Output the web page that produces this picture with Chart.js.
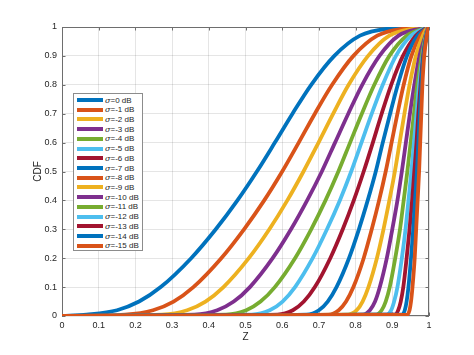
<!DOCTYPE html>
<html><head><meta charset="utf-8">
<script src="https://cdn.jsdelivr.net/npm/chart.js@4/dist/chart.umd.min.js"></script>
<style>
html,body{margin:0;padding:0;background:#fff;}
#wrap{position:relative;width:474px;height:355px;}
#legend{position:absolute;left:73px;top:93px;width:70px;height:158px;background:#fff;border:1px solid #8c8c8c;box-sizing:border-box;font-family:'Liberation Sans',Arial,sans-serif;font-size:8px;color:#262626;}
.row{position:absolute;left:0;height:10px;display:flex;align-items:center;white-space:nowrap;}
.swatch{width:26px;height:4px;margin-left:3px;margin-right:2px;}
.row i{font-family:'DejaVu Serif',serif;font-size:8px;}
</style></head>
<body><div id="wrap"><canvas id="c" width="474" height="355"></canvas><div id="legend"></div></div>
<script>
// CDF levels at which Z was read for each curve
const levels = [0, 0.005, 0.02, 0.05, 0.1, 0.2, 0.3, 0.4, 0.5, 0.6, 0.7, 0.8, 0.9, 0.97, 0.995, 1];
// Z values (x) read for each sigma curve, one per CDF level
const z_s0  = [0, .067, .150, .210, .269, .352, .419, .478, .531, .580, .628, .679, .742, .812, .895, 1];
const z_s1  = [0, .172, .248, .304, .358, .434, .496, .551, .600, .645, .689, .736, .794, .859, .935, 1];
const z_s2  = [0, .272, .341, .391, .440, .509, .565, .614, .658, .699, .739, .781, .834, .892, .961, 1];
const z_s3  = [0, .361, .423, .468, .512, .574, .624, .668, .708, .744, .780, .818, .865, .917, .979, 1];
const z_s4  = [0, .447, .502, .541, .580, .635, .679, .718, .753, .785, .817, .851, .892, .939, .985, 1];
const z_s5  = [0, .517, .566, .601, .635, .683, .722, .757, .788, .816, .844, .874, .910, .951, .988, 1];
const z_s6  = [0, .587, .629, .659, .689, .731, .765, .795, .822, .847, .871, .897, .929, .964, .990, 1];
const z_s7  = [0, .666, .700, .724, .748, .782, .809, .833, .855, .874, .894, .915, .940, .969, .992, 1];
const z_s8  = [0, .726, .754, .774, .794, .822, .844, .864, .882, .898, .914, .931, .952, .976, .993, 1];
const z_s9  = [0, .780, .803, .819, .835, .858, .876, .892, .907, .920, .933, .947, .964, .983, .994, 1];
const z_s10 = [0, .820, .839, .853, .866, .885, .900, .914, .926, .937, .948, .960, .974, .990, .996, 1];
const z_s11 = [0, .856, .871, .882, .893, .908, .921, .931, .941, .950, .959, .968, .980, .991, .997, 1];
const z_s12 = [0, .885, .897, .905, .914, .926, .936, .944, .952, .959, .966, .973, .983, .992, .997, 1];
const z_s13 = [0, .907, .916, .923, .930, .939, .947, .954, .960, .966, .971, .977, .984, .993, .998, 1];
const z_s14 = [0, .927, .934, .939, .944, .951, .957, .962, .967, .971, .975, .979, .985, .993, .998, 1];
const z_s15 = [0, .941, .947, .951, .955, .961, .965, .969, .973, .976, .979, .982, .987, .994, .998, 1];
const seriesLabels = ['σ=0 dB','σ=-1 dB','σ=-2 dB','σ=-3 dB','σ=-4 dB','σ=-5 dB','σ=-6 dB','σ=-7 dB',
  'σ=-8 dB','σ=-9 dB','σ=-10 dB','σ=-11 dB','σ=-12 dB','σ=-13 dB','σ=-14 dB','σ=-15 dB'];
const xTicks = [0,0.1,0.2,0.3,0.4,0.5,0.6,0.7,0.8,0.9,1];
const xTickLabels = ['0','0.1','0.2','0.3','0.4','0.5','0.6','0.7','0.8','0.9','1'];
const yTicks = [0,0.1,0.2,0.3,0.4,0.5,0.6,0.7,0.8,0.9,1];
const yTickLabels = ['0','0.1','0.2','0.3','0.4','0.5','0.6','0.7','0.8','0.9','1'];

const series = [z_s0,z_s1,z_s2,z_s3,z_s4,z_s5,z_s6,z_s7,z_s8,z_s9,z_s10,z_s11,z_s12,z_s13,z_s14,z_s15];
const palette = ['#0072BD','#D95319','#EDB120','#7E2F8E','#77AC30','#4DBEEE','#A2142F'];
const axisColor = '#6e6e6e';
const textColor = '#262626';
const font = {family:"'Liberation Sans', Arial, sans-serif", size:9};
const titleFont = {family:"'Liberation Sans', Arial, sans-serif", size:10};

const datasets = series.map((z,i)=>({
  label: seriesLabels[i],
  data: z.map((x,k)=>({x:x, y:levels[k]})),
  borderColor: palette[i%palette.length],
  backgroundColor: palette[i%palette.length],
  borderWidth: 3.8,
  pointRadius: 0,
  fill: false,
  cubicInterpolationMode: 'monotone',
  order: -i
}));

const framePlugin = {
  id:'frame',
  beforeDatasetsDraw(chart){
    const {ctx, chartArea:a, scales:{x, y}} = chart;
    ctx.save();
    ctx.strokeStyle = axisColor; ctx.lineWidth = 1;
    ctx.strokeRect(a.left+0.5, a.top+0.5, a.right-a.left-1, a.bottom-a.top-1);
    ctx.beginPath();
    xTicks.forEach(v=>{const px=Math.round(x.getPixelForValue(v))+0.5;
      ctx.moveTo(px,a.bottom); ctx.lineTo(px,a.bottom-3.5);
      ctx.moveTo(px,a.top); ctx.lineTo(px,a.top+3.5);});
    yTicks.forEach(v=>{const py=Math.round(y.getPixelForValue(v))+0.5;
      ctx.moveTo(a.left,py); ctx.lineTo(a.left+3.5,py);
      ctx.moveTo(a.right,py); ctx.lineTo(a.right-3.5,py);});
    ctx.stroke();
    ctx.restore();
  }
};

new Chart(document.getElementById('c'), {
  type:'line',
  data:{datasets},
  options:{
    responsive:false, animation:false, devicePixelRatio:1,
    layout:{padding:{top:27,right:45,left:0,bottom:0}},
    plugins:{legend:{display:false}, tooltip:{enabled:false}},
    scales:{
      x:{type:'linear', min:0, max:1,
        afterBuildTicks:s=>{s.ticks = xTicks.map(v=>({value:v}));},
        afterFit:s=>{s.height = 39;},
        ticks:{callback:(v,i)=>xTickLabels[i], font, color:textColor, padding:4, maxRotation:0, autoSkip:false},
        grid:{color:'rgba(0,0,0,0.1)', drawTicks:false, lineWidth:1},
        border:{display:false},
        title:{display:true, text:'Z', font:titleFont, color:textColor, padding:{top:0,bottom:12}}},
      y:{type:'linear', min:0, max:1,
        afterBuildTicks:s=>{s.ticks = yTicks.map(v=>({value:v}));},
        afterFit:s=>{s.width = 62;},
        ticks:{callback:(v,i)=>yTickLabels[i], font, color:textColor, padding:5, autoSkip:false},
        grid:{color:'rgba(0,0,0,0.1)', drawTicks:false, lineWidth:1},
        border:{display:false},
        title:{display:true, text:'CDF', font:titleFont, color:textColor, padding:{top:32,bottom:0}}}
    }
  },
  plugins:[framePlugin]
});

// legend built from the series labels / colours
const leg = document.getElementById('legend');
seriesLabels.forEach((lab,i)=>{
  const row = document.createElement('div');
  row.className='row';
  row.style.top = (1 + i*9.72) + 'px';
  const sw = document.createElement('div');
  sw.className='swatch'; sw.style.background = palette[i%palette.length];
  const tx = document.createElement('span');
  tx.innerHTML = '<i>σ</i>' + lab.slice(1);
  row.appendChild(sw); row.appendChild(tx);
  leg.appendChild(row);
});
</script>
</body></html>
